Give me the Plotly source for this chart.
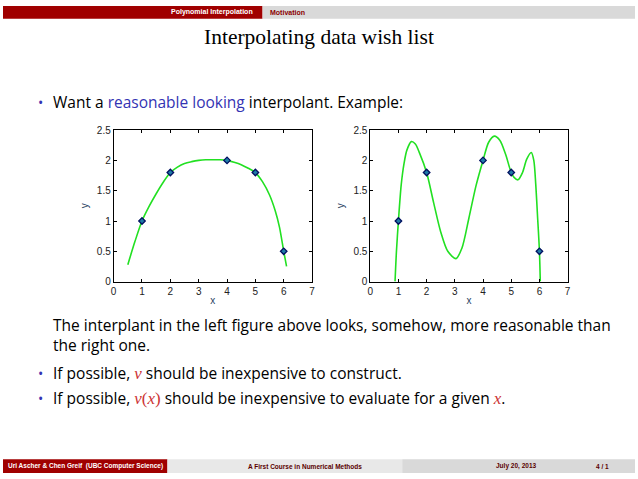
import plotly.graph_objects as go

W, H = 638, 479

# data points to interpolate
x_data = [1, 2, 4, 5, 6]
y_data = [1.0, 1.8, 2.0, 1.8, 0.5]

# left figure: the "reasonable" interpolant
left_x = [0.5, 0.75, 1.0, 1.25, 1.5, 1.75, 2.0, 2.25, 2.5, 2.75, 3.0, 3.25, 3.5,
          3.75, 4.0, 4.25, 4.5, 4.75, 5.0, 5.25, 5.5, 5.7, 5.85, 6.0, 6.1]
left_y = [0.28, 0.66, 1.0, 1.24, 1.45, 1.64, 1.8, 1.89, 1.95, 1.98, 2.0, 2.01, 2.01,
          2.01, 2.0, 1.97, 1.93, 1.87, 1.8, 1.65, 1.43, 1.17, 0.9, 0.5, 0.25]

# right figure: the wiggly interpolant
right_x = [0.88, 0.93, 1.0, 1.1, 1.2, 1.3, 1.46, 1.6, 1.75, 2.0, 2.25, 2.5, 2.75,
           3.04, 3.25, 3.5, 3.75, 4.0, 4.2, 4.4, 4.6, 4.8, 5.0, 5.1, 5.24, 5.4,
           5.55, 5.71, 5.8, 5.87, 5.93, 6.0, 6.03]
right_y = [0.0, 0.5, 1.0, 1.6, 1.95, 2.17, 2.31, 2.27, 2.12, 1.8, 1.3, 0.82, 0.5,
           0.38, 0.55, 1.05, 1.58, 2.0, 2.3, 2.4, 2.33, 2.1, 1.8, 1.72, 1.68, 1.8,
           2.02, 2.13, 2.0, 1.6, 1.1, 0.5, 0.0]

x_ticks = [0, 1, 2, 3, 4, 5, 6, 7]
y_ticks = [0, 0.5, 1, 1.5, 2, 2.5]
y_labels = ["0", "0.5", "1", "1.5", "2", "2.5"]

DARKRED = "#a00000"
BLUE = "#3333b3"
MATHRED = "#cc3333"
SANS = "Liberation Sans"
BODY = "Open Sans"
SERIF = "Liberation Serif"


def px(x):
    return x / W


def py(y):
    return 1 - y / H


fig = go.Figure()

for xa, ya, cx, cy in [("x", "y", left_x, left_y), ("x2", "y2", right_x, right_y)]:
    fig.add_trace(go.Scatter(x=cx, y=cy, mode="lines", xaxis=xa, yaxis=ya,
                             line=dict(color="#22e022", width=1.6, shape="spline", smoothing=0.8),
                             showlegend=False, hoverinfo="skip"))
    fig.add_trace(go.Scatter(x=x_data, y=y_data, mode="markers", xaxis=xa, yaxis=ya,
                             marker=dict(symbol="diamond", size=5, color="#1f7aa8",
                                         line=dict(color="#001060", width=1.3)),
                             showlegend=False, hoverinfo="skip"))

ax_common = dict(showline=True, linecolor="black", linewidth=0.8, mirror="ticks",
                 ticks="inside", ticklen=3, tickcolor="black", showgrid=False,
                 zeroline=False, tickfont=dict(family=SANS, size=10, color="#222"))

y_dom = [py(282.7), py(127.3)]
fig.update_layout(
    xaxis=dict(domain=[px(111.7), px(312)], range=[0, 7], tickvals=x_ticks,
               title=dict(text="x", font=dict(family=SANS, size=10), standoff=1), **ax_common),
    yaxis=dict(domain=y_dom, range=[0, 2.5], tickvals=y_ticks, ticktext=y_labels,
               title=dict(text="y", font=dict(family=SANS, size=10), standoff=6), **ax_common),
    xaxis2=dict(domain=[px(370.7), px(570)], range=[0, 7], tickvals=x_ticks, anchor="y2",
                title=dict(text="x", font=dict(family=SANS, size=10), standoff=1), **ax_common),
    yaxis2=dict(domain=y_dom, range=[0, 2.5], tickvals=y_ticks, ticktext=y_labels, anchor="x2",
                title=dict(text="y", font=dict(family=SANS, size=10), standoff=6), **ax_common),
)

# header and footer bars
shapes = [
    dict(x0=0, x1=px(262), y0=py(13), y1=1, fillcolor=DARKRED),
    dict(x0=px(262), x1=1, y0=py(13), y1=1, fillcolor="#d9d9d9"),
    dict(x0=0, x1=px(166), y0=0, y1=py(465), fillcolor=DARKRED),
    dict(x0=px(166), x1=px(403), y0=0, y1=py(465), fillcolor="#e8e8e8"),
    dict(x0=px(403), x1=1, y0=0, y1=py(465), fillcolor="#d9d9d9"),
]
for s in shapes:
    s.update(type="rect", xref="paper", yref="paper", line=dict(width=0), layer="below")
fig.update_layout(shapes=shapes)


def note(text, x, y, size=15.5, color="black", family=BODY, xanchor="left"):
    fig.add_annotation(text=text, x=px(x), y=py(y), xref="paper", yref="paper",
                       xanchor=xanchor, yanchor="middle", showarrow=False,
                       font=dict(family=family, size=size, color=color))


note("<b>Polynomial Interpolation</b>", 254, 6.5, size=7, color="white", family=SANS, xanchor="right")
note("<b>Motivation</b>", 268, 6.5, size=7, color="#8b0000", family=SANS)
note("Interpolating data wish list", 319, 32, size=21.5, family=SERIF, xanchor="center")

note("•", 33, 99, size=14, color=BLUE)
note("Want a <span style='color:%s'>reasonable looking</span> interpolant. Example:" % BLUE,
     48, 98)
note("The interplant in the left figure above looks, somehow, more reasonable than", 48, 327)
note("the right one.", 48, 348)
note("•", 33, 377, size=14, color=BLUE)
note("If possible, <span style='color:%s;font-family:%s;font-size:17px'><i>v</i></span> should be "
     "inexpensive to construct." % (MATHRED, SERIF), 48, 376)
note("•", 33, 403, size=14, color=BLUE)
note("If possible, <span style='color:%s;font-family:%s;font-size:17px'><i>v</i>(<i>x</i>)</span> should be "
     "inexpensive to evaluate for a given <span style='color:%s;font-family:%s;font-size:17px'><i>x</i></span>."
     % (MATHRED, SERIF, MATHRED, SERIF), 48, 402)

note("<b>Uri Ascher &amp; Chen Greif  (UBC Computer Science)</b>", 3, 472, size=6.5, color="white", family=SANS)
note("<b>A First Course in Numerical Methods</b>", 245, 472, size=6.5, color="#5a0000", family=SANS)
note("<b>July 20, 2013</b>", 496, 472, size=6.5, color="#5a0000", family=SANS)
note("<b>4 / 1</b>", 597, 472, size=6.5, color="#5a0000", family=SANS)

fig.update_layout(width=W, height=H, margin=dict(l=0, r=0, t=0, b=0),
                  paper_bgcolor="white", plot_bgcolor="white")

fig.write_html("out.html", config={"displayModeBar": False},
               post_script="document.body.style.margin='0';document.body.style.overflow='hidden';")
